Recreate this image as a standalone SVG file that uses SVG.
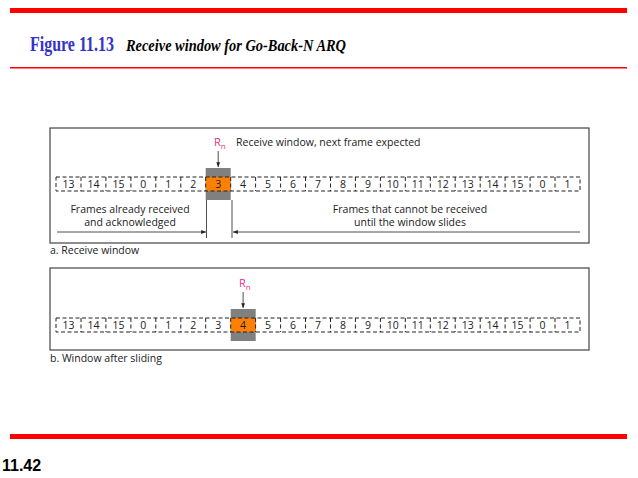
<svg xmlns="http://www.w3.org/2000/svg" width="638" height="478" viewBox="0 0 638 478">
<defs>
<style>
.d{fill:none;stroke:#222;stroke-width:1;stroke-dasharray:4,2.5}
.c{font-family:"Open Sans","Liberation Sans",sans-serif;font-size:10.5px;fill:#222;text-anchor:middle}
.t{font-family:"Open Sans","Liberation Sans",sans-serif;font-size:10.5px;fill:#222}
.rn{font-family:"Open Sans","Liberation Sans",sans-serif;font-size:11px;fill:#e0338a}
.ln{stroke:#222;stroke-width:0.8;fill:none}
</style>
<marker id="ar" viewBox="0 0 10 10" refX="10" refY="5" markerWidth="6" markerHeight="6" orient="auto-start-reverse"><path d="M0,1 L10,5 L0,9 z" fill="#222"/></marker>
<g id="cells">
<rect class="d" x="56" y="0" width="524" height="14"/>
<path class="d" d="M81,0v14M105.9,0v14M130.9,0v14M155.8,0v14M180.8,0v14M205.7,0v14M230.7,0v14M255.6,0v14M280.6,0v14M305.5,0v14M330.5,0v14M355.4,0v14M380.4,0v14M405.3,0v14M430.3,0v14M455.2,0v14M480.2,0v14M505.1,0v14M530.1,0v14M555,0v14"/>
</g>
</defs>
<rect x="10" y="8" width="617" height="5" fill="#ff0000"/>
<rect x="10" y="67" width="617" height="1.5" fill="#ff0000"/>
<rect x="10" y="434" width="617" height="5" fill="#ff0000"/>
<text x="30" y="51" font-family="Liberation Serif,serif" font-weight="bold" font-size="21" fill="#3333cc" textLength="84" lengthAdjust="spacingAndGlyphs">Figure 11.13</text>
<text x="126" y="51" font-family="Liberation Serif,serif" font-weight="bold" font-style="italic" font-size="16" fill="#000" textLength="220" lengthAdjust="spacingAndGlyphs">Receive window for Go-Back-N ARQ</text>
<text x="2" y="471" font-family="Liberation Sans,sans-serif" font-weight="bold" font-size="16" fill="#000">11.42</text>

<g id="panelA">
<rect x="50" y="128" width="539" height="115" fill="none" stroke="#444" stroke-width="1.2"/>
<rect x="205.7" y="168" width="25" height="32" fill="#808080"/>
<rect x="205.7" y="177" width="25" height="14" fill="#ff8000"/>
<use href="#cells" y="177"/>
<text class="c" y="188"><tspan x="68.5">13</tspan><tspan x="93.4">14</tspan><tspan x="118.4">15</tspan><tspan x="143.3">0</tspan><tspan x="168.3">1</tspan><tspan x="193.2">2</tspan><tspan x="218.2">3</tspan><tspan x="243.1">4</tspan><tspan x="268.1">5</tspan><tspan x="293">6</tspan><tspan x="318">7</tspan><tspan x="342.9">8</tspan><tspan x="367.9">9</tspan><tspan x="392.8">10</tspan><tspan x="417.8">11</tspan><tspan x="442.7">12</tspan><tspan x="467.7">13</tspan><tspan x="492.6">14</tspan><tspan x="517.6">15</tspan><tspan x="542.5">0</tspan><tspan x="567.5">1</tspan></text>
<text class="rn" x="214" y="146">R<tspan font-size="8" dy="3">n</tspan></text>
<text class="t" x="236" y="146">Receive window, next frame expected</text>
<text class="c" x="130" y="213">Frames already received</text>
<text class="c" x="130" y="226">and acknowledged</text>
<text class="c" x="410" y="213">Frames that cannot be received</text>
<text class="c" x="410" y="226">until the window slides</text>
<text class="t" x="50" y="254">a. Receive window</text>
</g>
<g id="panelB">
<rect x="50" y="268" width="539" height="82" fill="none" stroke="#444" stroke-width="1.2"/>
<rect x="230.7" y="309" width="25" height="32" fill="#808080"/>
<rect x="230.7" y="318" width="25" height="14" fill="#ff8000"/>
<use href="#cells" y="318"/>
<text class="c" y="329"><tspan x="68.5">13</tspan><tspan x="93.4">14</tspan><tspan x="118.4">15</tspan><tspan x="143.3">0</tspan><tspan x="168.3">1</tspan><tspan x="193.2">2</tspan><tspan x="218.2">3</tspan><tspan x="243.1">4</tspan><tspan x="268.1">5</tspan><tspan x="293">6</tspan><tspan x="318">7</tspan><tspan x="342.9">8</tspan><tspan x="367.9">9</tspan><tspan x="392.8">10</tspan><tspan x="417.8">11</tspan><tspan x="442.7">12</tspan><tspan x="467.7">13</tspan><tspan x="492.6">14</tspan><tspan x="517.6">15</tspan><tspan x="542.5">0</tspan><tspan x="567.5">1</tspan></text>
<text class="rn" x="239" y="287">R<tspan font-size="8" dy="3">n</tspan></text>
<text class="t" x="50" y="362">b. Window after sliding</text>
</g>
<g id="connectors">
<line class="ln" x1="218.2" y1="151" x2="218.2" y2="167" marker-end="url(#ar)"/>
<line class="ln" x1="243.1" y1="292" x2="243.1" y2="308" marker-end="url(#ar)"/>
<line class="ln" x1="206.5" y1="200" x2="206.5" y2="238"/>
<line class="ln" x1="232" y1="200" x2="232" y2="238"/>
<line class="ln" x1="57" y1="232" x2="206" y2="232" marker-end="url(#ar)"/>
<line class="ln" x1="580" y1="232" x2="233" y2="232" marker-end="url(#ar)"/>
</g>
</svg>
